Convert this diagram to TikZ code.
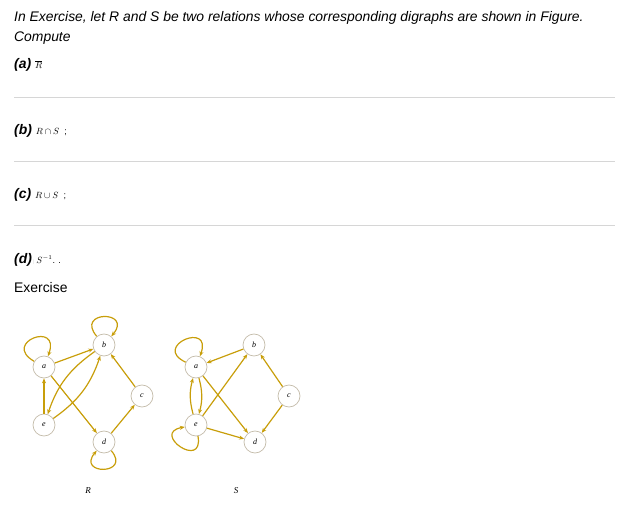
\documentclass[tikz,border=0pt]{standalone}
\usepackage{fontspec}
\setmainfont{Liberation Sans}
\newfontfamily\tms{Liberation Serif}
\usetikzlibrary{arrows.meta,shapes}
\definecolor{edgegold}{RGB}{200,158,10}
\definecolor{nodegray}{RGB}{196,188,170}
\definecolor{rulegray}{RGB}{214,214,214}
\tikzstyle{edge} = [draw,edgegold,line width=1.2pt,-]
\tikzstyle{dedge} = [draw,edgegold,line width=1.2pt,-{Stealth[length=5pt,width=4pt]}]
\tikzset{
  treenode/.style = {align=center, inner sep=0pt, text centered},
  vertex/.style = {treenode, circle, fill=white, draw=nodegray, line width=0.7pt, minimum size=22pt, font=\tms\itshape\footnotesize},% sommet du digraphe
  txt/.style = {anchor=base west, inner sep=0pt, font=\fontsize{13.9}{16}\selectfont},
}
\begin{document}
\begin{tikzpicture}[x=1pt,y=-1pt]
  \path [use as bounding box] (0,0) rectangle (633,519);

  % enonce
  \node[txt] (l1) at (14,22) {\itshape In Exercise, let R and S be two relations whose corresponding digraphs are shown in Figure.};
  \node[txt] (l2) at (14,42) {\itshape Compute};
  \node[txt] (qa) at (14,69) {\textbf{\textit{(a)}} {\small$\overline{R}$}};
  \node[txt] (qb) at (14,135) {\textbf{\textit{(b)}} {\small$R\cap S$\ \ ;}};
  \node[txt] (qc) at (14,199) {\textbf{\textit{(c)}} {\small$R\cup S$\ \ ;}};
  \node[txt] (qd) at (14,263) {\textbf{\textit{(d)}}{\color{rulegray}\tiny\,|}\,{\small$S^{-1}$. .}};
  \node[txt] (ex) at (14,292) {Exercise};
  \path[draw,rulegray,line width=0.8pt] (14,97) -- (615,97);
  \path[draw,rulegray,line width=0.8pt] (14,161) -- (615,161);
  \path[draw,rulegray,line width=0.8pt] (14,225) -- (615,225);

  % digraphe R
  \node[vertex] (ra) at (44,367) {a};
  \node[vertex] (rb) at (104,345) {b};
  \node[vertex] (rc) at (142,396) {c};
  \node[vertex] (re) at (44,425) {e};
  \node[vertex] (rd) at (104,442) {d};
  \node[font=\tms\itshape\small] (rl) at (88,491) {R};

  \path[dedge] (ra.150) .. controls +(150:38pt) and +(70:38pt) .. (ra.70);
  \path[dedge] (rb.130) .. controls +(130:34pt) and +(50:34pt) .. (rb.50);
  \path[dedge] (rd.-50) .. controls +(-50:32pt) and +(-130:32pt) .. (rd.-130);
  \path[dedge] (ra) -- (rb);
  \path[dedge] (re) -- (ra);
  \path[dedge] (re) to[bend right=18] (rb);
  \path[dedge] (rb) to[bend right=18] (re);
  \path[dedge] (ra) -- (rd);
  \path[dedge] (rd) -- (rc);
  \path[dedge] (rc) -- (rb);

  % digraphe S
  \node[vertex] (sa) at (196,367) {a};
  \node[vertex] (sb) at (254,345) {b};
  \node[vertex] (sc) at (289,396) {c};
  \node[vertex] (se) at (196,425) {e};
  \node[vertex] (sd) at (255,442) {d};
  \node[font=\tms\itshape\small] (sl) at (236,491) {S};

  \path[dedge] (sa.155) .. controls +(155:38pt) and +(70:38pt) .. (sa.70);
  \path[dedge] (se.-80) .. controls +(-80:35pt) and +(-170:35pt) .. (se.-170);
  \path[dedge] (sb) -- (sa);
  \path[dedge] (sa) to[bend left=15] (se);
  \path[dedge] (se) to[bend left=15] (sa);
  \path[dedge] (se) -- (sb);
  \path[dedge] (sa) -- (sd);
  \path[dedge] (se) -- (sd);
  \path[dedge] (sc) -- (sb);
  \path[dedge] (sc) -- (sd);
\end{tikzpicture}
\end{document}
